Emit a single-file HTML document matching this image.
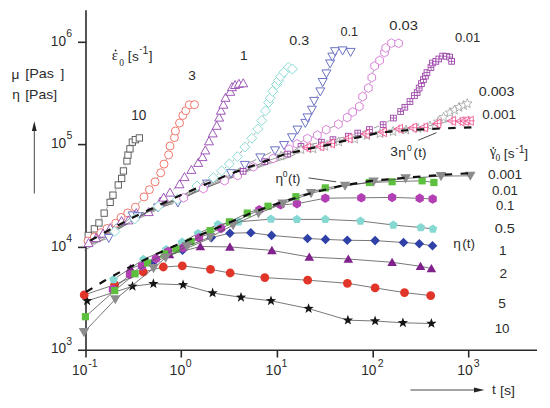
<!DOCTYPE html>
<html><head><meta charset="utf-8"><style>
html,body{margin:0;padding:0;background:#fff;}
body{width:550px;height:408px;overflow:hidden;}
svg{display:block;}
</style></head><body>
<svg width="550" height="408" viewBox="0 0 550 408">
<rect width="550" height="408" fill="#fff"/>
<line x1="86" y1="10.3" x2="86" y2="357.5" stroke="#2a2a2a" stroke-width="1.6"/>
<line x1="78" y1="350.3" x2="537" y2="350.3" stroke="#2a2a2a" stroke-width="1.6"/>
<line x1="78" y1="42.3" x2="86" y2="42.3" stroke="#2a2a2a" stroke-width="1.6"/>
<line x1="78" y1="144.6" x2="86" y2="144.6" stroke="#2a2a2a" stroke-width="1.6"/>
<line x1="78" y1="247.4" x2="86" y2="247.4" stroke="#2a2a2a" stroke-width="1.6"/>
<line x1="181.3" y1="350" x2="181.3" y2="357.5" stroke="#2a2a2a" stroke-width="1.6"/>
<line x1="277.4" y1="350" x2="277.4" y2="357.5" stroke="#2a2a2a" stroke-width="1.6"/>
<line x1="373.2" y1="350" x2="373.2" y2="357.5" stroke="#2a2a2a" stroke-width="1.6"/>
<line x1="468.7" y1="350" x2="468.7" y2="357.5" stroke="#2a2a2a" stroke-width="1.6"/>
<text transform="translate(50.85,45.70) scale(1.046,1.067)" font-size="13" font-family="Liberation Sans, sans-serif" fill="#2b2b2b">10</text>
<text transform="translate(66.20,37.38) scale(1.000,1.000)" font-size="10.5" font-family="Liberation Sans, sans-serif" fill="#2b2b2b">6</text>
<text transform="translate(50.95,148.20) scale(1.054,1.078)" font-size="13" font-family="Liberation Sans, sans-serif" fill="#2b2b2b">10</text>
<text transform="translate(66.40,139.15) scale(1.000,1.000)" font-size="10.5" font-family="Liberation Sans, sans-serif" fill="#2b2b2b">5</text>
<text transform="translate(50.95,250.70) scale(1.054,1.067)" font-size="13" font-family="Liberation Sans, sans-serif" fill="#2b2b2b">10</text>
<text transform="translate(66.17,242.23) scale(1.000,1.000)" font-size="10.5" font-family="Liberation Sans, sans-serif" fill="#2b2b2b">4</text>
<text transform="translate(50.95,353.40) scale(1.054,1.100)" font-size="13" font-family="Liberation Sans, sans-serif" fill="#2b2b2b">10</text>
<text transform="translate(66.25,344.73) scale(1.000,1.000)" font-size="10.5" font-family="Liberation Sans, sans-serif" fill="#2b2b2b">3</text>
<text transform="translate(72.05,375.10) scale(1.054,1.067)" font-size="13" font-family="Liberation Sans, sans-serif" fill="#2b2b2b">10</text>
<text transform="translate(88.35,366.90) scale(1.000,1.000)" font-size="10.5" font-family="Liberation Sans, sans-serif" fill="#2b2b2b">-</text>
<text transform="translate(91.85,367.08) scale(1.000,1.000)" font-size="10.5" font-family="Liberation Sans, sans-serif" fill="#2b2b2b">1</text>
<text transform="translate(169.62,375.10) scale(1.085,1.067)" font-size="13" font-family="Liberation Sans, sans-serif" fill="#2b2b2b">10</text>
<text transform="translate(185.70,367.07) scale(1.000,1.000)" font-size="10.5" font-family="Liberation Sans, sans-serif" fill="#2b2b2b">0</text>
<text transform="translate(265.62,375.10) scale(1.077,1.067)" font-size="13" font-family="Liberation Sans, sans-serif" fill="#2b2b2b">10</text>
<text transform="translate(281.50,366.77) scale(1.000,1.000)" font-size="10.5" font-family="Liberation Sans, sans-serif" fill="#2b2b2b">1</text>
<text transform="translate(361.25,375.10) scale(1.054,1.067)" font-size="13" font-family="Liberation Sans, sans-serif" fill="#2b2b2b">10</text>
<text transform="translate(377.73,367.08) scale(1.000,1.000)" font-size="10.5" font-family="Liberation Sans, sans-serif" fill="#2b2b2b">2</text>
<text transform="translate(457.22,375.10) scale(1.077,1.067)" font-size="13" font-family="Liberation Sans, sans-serif" fill="#2b2b2b">10</text>
<text transform="translate(473.75,366.93) scale(1.000,1.000)" font-size="10.5" font-family="Liberation Sans, sans-serif" fill="#2b2b2b">3</text>
<text transform="translate(492.07,394.47) scale(1.054,1.022)" font-size="13" font-family="Liberation Sans, sans-serif" fill="#2b2b2b">t</text>
<text transform="translate(500.01,394.90) scale(1.089,1.022)" font-size="13" font-family="Liberation Sans, sans-serif" fill="#2b2b2b">[s]</text>
<text transform="translate(11.40,78.97) scale(1.054,1.022)" font-size="13" font-family="Liberation Sans, sans-serif" fill="#2b2b2b">&#956;</text>
<text transform="translate(25.19,78.35) scale(1.110,1.022)" font-size="13" font-family="Liberation Sans, sans-serif" fill="#2b2b2b">[Pas</text>
<text transform="translate(60.50,78.35) scale(1.054,1.022)" font-size="13" font-family="Liberation Sans, sans-serif" fill="#2b2b2b">]</text>
<text transform="translate(12.13,98.87) scale(1.054,1.022)" font-size="13" font-family="Liberation Sans, sans-serif" fill="#2b2b2b">&#951;</text>
<text transform="translate(25.22,98.80) scale(1.077,1.022)" font-size="13" font-family="Liberation Sans, sans-serif" fill="#2b2b2b">[Pas]</text>
<text transform="translate(111.79,59.97) scale(1.054,1.022)" font-size="14" font-family="Liberation Serif, serif" fill="#2b2b2b">&#949;</text>
<text transform="translate(119.32,65.67) scale(1.000,1.000)" font-size="9.5" font-family="Liberation Serif, serif" fill="#2b2b2b">0</text>
<text transform="translate(127.63,60.10) scale(1.054,1.022)" font-size="13" font-family="Liberation Sans, sans-serif" fill="#2b2b2b">[</text>
<text transform="translate(132.02,60.68) scale(1.054,1.022)" font-size="13" font-family="Liberation Sans, sans-serif" fill="#2b2b2b">s</text>
<text transform="translate(139.25,51.58) scale(1.000,1.000)" font-size="9" font-family="Liberation Sans, sans-serif" fill="#2b2b2b">-</text>
<text transform="translate(142.55,54.42) scale(1.000,1.000)" font-size="10.5" font-family="Liberation Sans, sans-serif" fill="#2b2b2b">1</text>
<text transform="translate(148.85,60.10) scale(1.054,1.022)" font-size="13" font-family="Liberation Sans, sans-serif" fill="#2b2b2b">]</text>
<text transform="translate(131.15,119.70) scale(1.046,1.056)" font-size="13" font-family="Liberation Sans, sans-serif" fill="#2b2b2b">10</text>
<text transform="translate(188.28,79.60) scale(1.054,1.022)" font-size="13" font-family="Liberation Sans, sans-serif" fill="#2b2b2b">3</text>
<text transform="translate(240.05,60.20) scale(1.054,1.022)" font-size="13" font-family="Liberation Sans, sans-serif" fill="#2b2b2b">1</text>
<text transform="translate(289.25,44.50) scale(1.100,1.011)" font-size="13" font-family="Liberation Sans, sans-serif" fill="#2b2b2b">0.3</text>
<text transform="translate(340.41,35.71) scale(0.976,0.980)" font-size="13" font-family="Liberation Sans, sans-serif" fill="#2b2b2b">0.1</text>
<text transform="translate(389.33,30.01) scale(1.134,0.980)" font-size="13" font-family="Liberation Sans, sans-serif" fill="#2b2b2b">0.03</text>
<text transform="translate(455.00,42.40) scale(1.002,1.022)" font-size="13" font-family="Liberation Sans, sans-serif" fill="#2b2b2b">0.01</text>
<text transform="translate(478.75,96.20) scale(1.098,1.033)" font-size="13" font-family="Liberation Sans, sans-serif" fill="#2b2b2b">0.003</text>
<text transform="translate(482.18,119.40) scale(1.041,1.011)" font-size="13" font-family="Liberation Sans, sans-serif" fill="#2b2b2b">0.001</text>
<text transform="translate(390.28,156.45) scale(1.054,1.022)" font-size="13" font-family="Liberation Sans, sans-serif" fill="#2b2b2b">3</text>
<text transform="translate(398.23,156.92) scale(1.054,1.022)" font-size="13" font-family="Liberation Sans, sans-serif" fill="#2b2b2b">&#951;</text>
<text transform="translate(406.89,151.07) scale(0.820,0.860)" font-size="10.5" font-family="Liberation Sans, sans-serif" fill="#2b2b2b">0</text>
<text transform="translate(413.62,156.65) scale(1.042,1.022)" font-size="13" font-family="Liberation Sans, sans-serif" fill="#2b2b2b">(t)</text>
<text transform="translate(489.72,156.44) scale(1.054,1.022)" font-size="14" font-family="Liberation Serif, serif" fill="#2b2b2b">&#947;</text>
<text transform="translate(495.48,160.88) scale(1.000,1.000)" font-size="9.5" font-family="Liberation Serif, serif" fill="#2b2b2b">0</text>
<text transform="translate(503.73,158.10) scale(1.054,1.022)" font-size="13" font-family="Liberation Sans, sans-serif" fill="#2b2b2b">[</text>
<text transform="translate(507.77,158.28) scale(1.054,1.022)" font-size="13" font-family="Liberation Sans, sans-serif" fill="#2b2b2b">s</text>
<text transform="translate(515.55,151.12) scale(1.000,1.000)" font-size="9" font-family="Liberation Sans, sans-serif" fill="#2b2b2b">-</text>
<text transform="translate(518.85,152.57) scale(1.000,1.000)" font-size="10.5" font-family="Liberation Sans, sans-serif" fill="#2b2b2b">1</text>
<text transform="translate(524.30,158.10) scale(1.054,1.022)" font-size="13" font-family="Liberation Sans, sans-serif" fill="#2b2b2b">]</text>
<text transform="translate(488.07,179.41) scale(1.051,0.980)" font-size="13" font-family="Liberation Sans, sans-serif" fill="#2b2b2b">0.001</text>
<text transform="translate(492.09,195.10) scale(1.023,1.022)" font-size="13" font-family="Liberation Sans, sans-serif" fill="#2b2b2b">0.01</text>
<text transform="translate(496.10,210.40) scale(1.006,1.022)" font-size="13" font-family="Liberation Sans, sans-serif" fill="#2b2b2b">0.1</text>
<text transform="translate(494.64,233.40) scale(1.118,1.022)" font-size="13" font-family="Liberation Sans, sans-serif" fill="#2b2b2b">0.5</text>
<text transform="translate(499.00,255.00) scale(1.054,1.022)" font-size="13" font-family="Liberation Sans, sans-serif" fill="#2b2b2b">1</text>
<text transform="translate(499.53,278.20) scale(1.054,1.022)" font-size="13" font-family="Liberation Sans, sans-serif" fill="#2b2b2b">2</text>
<text transform="translate(498.33,308.45) scale(1.054,1.022)" font-size="13" font-family="Liberation Sans, sans-serif" fill="#2b2b2b">5</text>
<text transform="translate(494.67,333.00) scale(1.031,1.011)" font-size="13" font-family="Liberation Sans, sans-serif" fill="#2b2b2b">10</text>
<text transform="translate(275.43,183.37) scale(1.054,1.022)" font-size="13" font-family="Liberation Sans, sans-serif" fill="#2b2b2b">&#951;</text>
<text transform="translate(282.69,177.17) scale(0.820,0.860)" font-size="10.5" font-family="Liberation Sans, sans-serif" fill="#2b2b2b">0</text>
<text transform="translate(288.05,182.95) scale(1.005,1.022)" font-size="13" font-family="Liberation Sans, sans-serif" fill="#2b2b2b">(t)</text>
<text transform="translate(453.28,247.62) scale(1.054,1.022)" font-size="13" font-family="Liberation Sans, sans-serif" fill="#2b2b2b">&#951;</text>
<text transform="translate(462.32,247.50) scale(1.042,1.022)" font-size="13" font-family="Liberation Sans, sans-serif" fill="#2b2b2b">(t)</text>
<line x1="410.5" y1="390" x2="476" y2="390" stroke="#333" stroke-width="0.9"/>
<polygon points="484.3,390 474,387.6 474,392.4" fill="#222"/>
<line x1="34.3" y1="130" x2="34.3" y2="193.5" stroke="#333" stroke-width="0.9"/>
<polygon points="34.3,121.3 31.9,131 36.7,131" fill="#222"/>
<circle cx="115.6" cy="50.5" r="0.9" fill="#2b2b2b"/>
<circle cx="493.4" cy="147.8" r="0.9" fill="#2b2b2b"/>
<line x1="418.2" y1="140.3" x2="436.4" y2="132.7" stroke="#333" stroke-width="0.9"/>
<line x1="308.5" y1="177.9" x2="336.2" y2="181.8" stroke="#333" stroke-width="0.9"/>
<polyline points="84.5,250.5 114.9,231.5" fill="none" stroke="#555" stroke-width="0.6" />
<polyline points="86.0,246.0 97.0,242.0 108.8,238.0" fill="none" stroke="#555" stroke-width="0.6" />
<polyline points="88.0,243.9 110.0,231.5 130.0,221.0 150.0,211.4 170.0,202.0 183.6,197.8" fill="none" stroke="#555" stroke-width="0.6" />
<polyline points="86.0,244.2 110.0,230.7 130.0,220.2 150.0,210.6 170.0,201.2 190.0,192.2 210.0,183.6 230.0,175.2 243.2,171.3" fill="none" stroke="#555" stroke-width="0.6" />
<polyline points="86.0,245.6 110.0,232.1 130.0,221.6 150.0,212.0 170.0,202.6 190.0,193.6 210.0,185.0 230.0,176.6 250.0,169.3 270.0,162.1 281.0,156.0" fill="none" stroke="#555" stroke-width="0.6" />
<polyline points="86.0,246.8 110.0,233.3 130.0,222.8 150.0,213.2 170.0,203.8 190.0,194.8 210.0,186.2 230.0,177.8 250.0,170.5 270.0,163.3 290.0,156.9 306.8,147.6" fill="none" stroke="#555" stroke-width="0.6" />
<path d="M101.1,218.9L102.0,217.2M106.4,209.2L108.0,206.3M115.1,191.1L116.2,189.1M125.0,166.5L125.4,165.4" fill="none" stroke="#555" stroke-width="0.6"/>
<rect x="85.1" y="232.3" width="6.3" height="6.3" fill="#fff" stroke="#5a5a5a" stroke-width="0.95"/>
<rect x="91.2" y="225.7" width="6.3" height="6.3" fill="#fff" stroke="#5a5a5a" stroke-width="0.95"/>
<rect x="95.8" y="219.8" width="6.3" height="6.3" fill="#fff" stroke="#5a5a5a" stroke-width="0.95"/>
<rect x="101.0" y="210.0" width="6.3" height="6.3" fill="#fff" stroke="#5a5a5a" stroke-width="0.95"/>
<rect x="107.0" y="199.2" width="6.3" height="6.3" fill="#fff" stroke="#5a5a5a" stroke-width="0.95"/>
<rect x="109.8" y="192.0" width="6.3" height="6.3" fill="#fff" stroke="#5a5a5a" stroke-width="0.95"/>
<rect x="115.1" y="181.8" width="6.3" height="6.3" fill="#fff" stroke="#5a5a5a" stroke-width="0.95"/>
<rect x="118.5" y="175.3" width="6.3" height="6.3" fill="#fff" stroke="#5a5a5a" stroke-width="0.95"/>
<rect x="120.3" y="167.8" width="6.3" height="6.3" fill="#fff" stroke="#5a5a5a" stroke-width="0.95"/>
<rect x="123.8" y="157.8" width="6.3" height="6.3" fill="#fff" stroke="#5a5a5a" stroke-width="0.95"/>
<rect x="124.8" y="151.9" width="6.3" height="6.3" fill="#fff" stroke="#5a5a5a" stroke-width="0.95"/>
<rect x="126.8" y="145.7" width="6.3" height="6.3" fill="#fff" stroke="#5a5a5a" stroke-width="0.95"/>
<rect x="129.2" y="139.0" width="6.3" height="6.3" fill="#fff" stroke="#5a5a5a" stroke-width="0.95"/>
<rect x="132.2" y="136.5" width="6.3" height="6.3" fill="#fff" stroke="#5a5a5a" stroke-width="0.95"/>
<rect x="136.2" y="134.8" width="6.3" height="6.3" fill="#fff" stroke="#5a5a5a" stroke-width="0.95"/>
<path d="M110.9,226.1L111.8,225.6M138.3,203.7L141.1,200.4M157.5,177.9L158.2,176.7M166.1,160.0L166.5,159.0" fill="none" stroke="#555" stroke-width="0.6"/>
<circle cx="88.0" cy="241.0" r="4.0" fill="#fff" stroke="#ee6a5e" stroke-width="0.9"/>
<circle cx="94.3" cy="237.0" r="4.0" fill="#fff" stroke="#ee6a5e" stroke-width="0.9"/>
<circle cx="100.9" cy="232.7" r="4.0" fill="#fff" stroke="#ee6a5e" stroke-width="0.9"/>
<circle cx="107.0" cy="228.5" r="4.0" fill="#fff" stroke="#ee6a5e" stroke-width="0.9"/>
<circle cx="115.7" cy="223.2" r="4.0" fill="#fff" stroke="#ee6a5e" stroke-width="0.9"/>
<circle cx="121.0" cy="217.4" r="4.0" fill="#fff" stroke="#ee6a5e" stroke-width="0.9"/>
<circle cx="127.7" cy="212.9" r="4.0" fill="#fff" stroke="#ee6a5e" stroke-width="0.9"/>
<circle cx="135.4" cy="207.2" r="4.0" fill="#fff" stroke="#ee6a5e" stroke-width="0.9"/>
<circle cx="144.0" cy="196.9" r="4.0" fill="#fff" stroke="#ee6a5e" stroke-width="0.9"/>
<circle cx="149.4" cy="189.7" r="4.0" fill="#fff" stroke="#ee6a5e" stroke-width="0.9"/>
<circle cx="155.0" cy="181.8" r="4.0" fill="#fff" stroke="#ee6a5e" stroke-width="0.9"/>
<circle cx="160.7" cy="172.8" r="4.0" fill="#fff" stroke="#ee6a5e" stroke-width="0.9"/>
<circle cx="164.0" cy="164.1" r="4.0" fill="#fff" stroke="#ee6a5e" stroke-width="0.9"/>
<circle cx="168.6" cy="154.9" r="4.0" fill="#fff" stroke="#ee6a5e" stroke-width="0.9"/>
<circle cx="170.0" cy="146.0" r="4.0" fill="#fff" stroke="#ee6a5e" stroke-width="0.9"/>
<circle cx="174.4" cy="137.6" r="4.0" fill="#fff" stroke="#ee6a5e" stroke-width="0.9"/>
<circle cx="175.4" cy="131.0" r="4.0" fill="#fff" stroke="#ee6a5e" stroke-width="0.9"/>
<circle cx="179.5" cy="123.0" r="4.0" fill="#fff" stroke="#ee6a5e" stroke-width="0.9"/>
<circle cx="182.8" cy="115.5" r="4.0" fill="#fff" stroke="#ee6a5e" stroke-width="0.9"/>
<circle cx="185.8" cy="110.7" r="4.0" fill="#fff" stroke="#ee6a5e" stroke-width="0.9"/>
<circle cx="189.3" cy="104.8" r="4.0" fill="#fff" stroke="#ee6a5e" stroke-width="0.9"/>
<circle cx="194.5" cy="104.7" r="4.0" fill="#fff" stroke="#ee6a5e" stroke-width="0.9"/>
<path d="M114.2,225.6L117.6,223.4M131.7,217.2L132.9,216.1M140.9,212.6L144.1,212.4M152.1,208.9L156.9,204.6M173.5,189.5L176.0,187.2M187.7,173.7L188.2,173.1M194.6,166.5L195.0,166.1M207.0,146.0L207.3,145.5" fill="none" stroke="#555" stroke-width="0.6"/>
<polygon points="88.50,238.60 93.00,246.60 84.00,246.60" fill="#fff" stroke="#9446b0" stroke-width="0.9" stroke-linejoin="miter"/>
<polygon points="96.00,233.60 100.50,241.60 91.50,241.60" fill="#fff" stroke="#9446b0" stroke-width="0.9" stroke-linejoin="miter"/>
<polygon points="103.00,229.10 107.50,237.10 98.50,237.10" fill="#fff" stroke="#9446b0" stroke-width="0.9" stroke-linejoin="miter"/>
<polygon points="110.30,223.60 114.80,231.60 105.80,231.60" fill="#fff" stroke="#9446b0" stroke-width="0.9" stroke-linejoin="miter"/>
<polygon points="121.50,216.60 126.00,224.60 117.00,224.60" fill="#fff" stroke="#9446b0" stroke-width="0.9" stroke-linejoin="miter"/>
<polygon points="128.30,215.90 132.80,223.90 123.80,223.90" fill="#fff" stroke="#9446b0" stroke-width="0.9" stroke-linejoin="miter"/>
<polygon points="136.30,208.60 140.80,216.60 131.80,216.60" fill="#fff" stroke="#9446b0" stroke-width="0.9" stroke-linejoin="miter"/>
<polygon points="148.70,207.60 153.20,215.60 144.20,215.60" fill="#fff" stroke="#9446b0" stroke-width="0.9" stroke-linejoin="miter"/>
<polygon points="160.30,197.10 164.80,205.10 155.80,205.10" fill="#fff" stroke="#9446b0" stroke-width="0.9" stroke-linejoin="miter"/>
<polygon points="163.70,193.10 168.20,201.10 159.20,201.10" fill="#fff" stroke="#9446b0" stroke-width="0.9" stroke-linejoin="miter"/>
<polygon points="170.00,188.10 174.50,196.10 165.50,196.10" fill="#fff" stroke="#9446b0" stroke-width="0.9" stroke-linejoin="miter"/>
<polygon points="179.50,179.80 184.00,187.80 175.00,187.80" fill="#fff" stroke="#9446b0" stroke-width="0.9" stroke-linejoin="miter"/>
<polygon points="184.50,172.60 189.00,180.60 180.00,180.60" fill="#fff" stroke="#9446b0" stroke-width="0.9" stroke-linejoin="miter"/>
<polygon points="191.40,165.40 195.90,173.40 186.90,173.40" fill="#fff" stroke="#9446b0" stroke-width="0.9" stroke-linejoin="miter"/>
<polygon points="198.20,158.40 202.70,166.40 193.70,166.40" fill="#fff" stroke="#9446b0" stroke-width="0.9" stroke-linejoin="miter"/>
<polygon points="202.50,152.60 207.00,160.60 198.00,160.60" fill="#fff" stroke="#9446b0" stroke-width="0.9" stroke-linejoin="miter"/>
<polygon points="205.30,145.90 209.80,153.90 200.80,153.90" fill="#fff" stroke="#9446b0" stroke-width="0.9" stroke-linejoin="miter"/>
<polygon points="209.00,136.80 213.50,144.80 204.50,144.80" fill="#fff" stroke="#9446b0" stroke-width="0.9" stroke-linejoin="miter"/>
<polygon points="212.70,128.90 217.20,136.90 208.20,136.90" fill="#fff" stroke="#9446b0" stroke-width="0.9" stroke-linejoin="miter"/>
<polygon points="216.70,121.30 221.20,129.30 212.20,129.30" fill="#fff" stroke="#9446b0" stroke-width="0.9" stroke-linejoin="miter"/>
<polygon points="219.20,113.10 223.70,121.10 214.70,121.10" fill="#fff" stroke="#9446b0" stroke-width="0.9" stroke-linejoin="miter"/>
<polygon points="220.90,106.20 225.40,114.20 216.40,114.20" fill="#fff" stroke="#9446b0" stroke-width="0.9" stroke-linejoin="miter"/>
<polygon points="223.40,100.20 227.90,108.20 218.90,108.20" fill="#fff" stroke="#9446b0" stroke-width="0.9" stroke-linejoin="miter"/>
<polygon points="225.50,93.30 230.00,101.30 221.00,101.30" fill="#fff" stroke="#9446b0" stroke-width="0.9" stroke-linejoin="miter"/>
<polygon points="230.30,87.30 234.80,95.30 225.80,95.30" fill="#fff" stroke="#9446b0" stroke-width="0.9" stroke-linejoin="miter"/>
<polygon points="232.00,82.70 236.50,90.70 227.50,90.70" fill="#fff" stroke="#9446b0" stroke-width="0.9" stroke-linejoin="miter"/>
<polygon points="235.10,80.50 239.60,88.50 230.60,88.50" fill="#fff" stroke="#9446b0" stroke-width="0.9" stroke-linejoin="miter"/>
<polygon points="238.90,79.30 243.40,87.30 234.40,87.30" fill="#fff" stroke="#9446b0" stroke-width="0.9" stroke-linejoin="miter"/>
<polygon points="243.20,78.80 247.70,86.80 238.70,86.80" fill="#fff" stroke="#9446b0" stroke-width="0.9" stroke-linejoin="miter"/>
<path d="M112.1,234.8L129.3,218.7M141.9,214.6L153.8,209.3M162.5,206.4L173.4,203.7M181.8,200.1L203.1,186.2M211.2,181.9L226.8,175.1M234.9,170.9L240.9,167.4M248.9,163.0L256.2,159.5M264.4,155.5L270.9,152.4M279.0,148.1L280.0,147.5M287.3,142.0L288.7,140.6M301.0,126.7L301.8,126.0M316.6,97.1L317.8,95.4M321.4,87.0L321.6,86.6M328.0,69.2L328.5,67.8" fill="none" stroke="#555" stroke-width="0.6"/>
<polygon points="104.30,234.40 113.30,234.40 108.80,242.40" fill="#fff" stroke="#5a62bc" stroke-width="0.9" stroke-linejoin="miter"/>
<polygon points="128.10,211.90 137.10,211.90 132.60,219.90" fill="#fff" stroke="#5a62bc" stroke-width="0.9" stroke-linejoin="miter"/>
<polygon points="133.20,212.80 142.20,212.80 137.70,220.80" fill="#fff" stroke="#5a62bc" stroke-width="0.9" stroke-linejoin="miter"/>
<polygon points="153.50,203.90 162.50,203.90 158.00,211.90" fill="#fff" stroke="#5a62bc" stroke-width="0.9" stroke-linejoin="miter"/>
<polygon points="173.40,199.00 182.40,199.00 177.90,207.00" fill="#fff" stroke="#5a62bc" stroke-width="0.9" stroke-linejoin="miter"/>
<polygon points="202.50,180.10 211.50,180.10 207.00,188.10" fill="#fff" stroke="#5a62bc" stroke-width="0.9" stroke-linejoin="miter"/>
<polygon points="226.50,169.70 235.50,169.70 231.00,177.70" fill="#fff" stroke="#5a62bc" stroke-width="0.9" stroke-linejoin="miter"/>
<polygon points="240.30,161.40 249.30,161.40 244.80,169.40" fill="#fff" stroke="#5a62bc" stroke-width="0.9" stroke-linejoin="miter"/>
<polygon points="255.80,153.90 264.80,153.90 260.30,161.90" fill="#fff" stroke="#5a62bc" stroke-width="0.9" stroke-linejoin="miter"/>
<polygon points="270.50,146.80 279.50,146.80 275.00,154.80" fill="#fff" stroke="#5a62bc" stroke-width="0.9" stroke-linejoin="miter"/>
<polygon points="279.50,141.60 288.50,141.60 284.00,149.60" fill="#fff" stroke="#5a62bc" stroke-width="0.9" stroke-linejoin="miter"/>
<polygon points="287.50,133.80 296.50,133.80 292.00,141.80" fill="#fff" stroke="#5a62bc" stroke-width="0.9" stroke-linejoin="miter"/>
<polygon points="293.00,126.10 302.00,126.10 297.50,134.10" fill="#fff" stroke="#5a62bc" stroke-width="0.9" stroke-linejoin="miter"/>
<polygon points="300.80,119.40 309.80,119.40 305.30,127.40" fill="#fff" stroke="#5a62bc" stroke-width="0.9" stroke-linejoin="miter"/>
<polygon points="303.00,113.90 312.00,113.90 307.50,121.90" fill="#fff" stroke="#5a62bc" stroke-width="0.9" stroke-linejoin="miter"/>
<polygon points="307.40,106.20 316.40,106.20 311.90,114.20" fill="#fff" stroke="#5a62bc" stroke-width="0.9" stroke-linejoin="miter"/>
<polygon points="309.60,97.40 318.60,97.40 314.10,105.40" fill="#fff" stroke="#5a62bc" stroke-width="0.9" stroke-linejoin="miter"/>
<polygon points="315.80,87.90 324.80,87.90 320.30,95.90" fill="#fff" stroke="#5a62bc" stroke-width="0.9" stroke-linejoin="miter"/>
<polygon points="318.20,78.50 327.20,78.50 322.70,86.50" fill="#fff" stroke="#5a62bc" stroke-width="0.9" stroke-linejoin="miter"/>
<polygon points="321.90,69.90 330.90,69.90 326.40,77.90" fill="#fff" stroke="#5a62bc" stroke-width="0.9" stroke-linejoin="miter"/>
<polygon points="325.60,59.90 334.60,59.90 330.10,67.90" fill="#fff" stroke="#5a62bc" stroke-width="0.9" stroke-linejoin="miter"/>
<polygon points="327.80,53.10 336.80,53.10 332.30,61.10" fill="#fff" stroke="#5a62bc" stroke-width="0.9" stroke-linejoin="miter"/>
<polygon points="330.50,47.70 339.50,47.70 335.00,55.70" fill="#fff" stroke="#5a62bc" stroke-width="0.9" stroke-linejoin="miter"/>
<polygon points="338.10,46.90 347.10,46.90 342.60,54.90" fill="#fff" stroke="#5a62bc" stroke-width="0.9" stroke-linejoin="miter"/>
<polygon points="346.10,48.40 355.10,48.40 350.60,56.40" fill="#fff" stroke="#5a62bc" stroke-width="0.9" stroke-linejoin="miter"/>
<path d="M118.8,229.0L130.8,221.5M138.8,216.8L154.0,208.7M162.4,204.9L173.1,200.9M181.2,196.7L193.2,188.6M201.1,183.9L209.2,179.8M216.9,174.8L218.0,173.8M225.0,167.8L226.0,167.0M232.8,160.8L234.0,159.8M240.2,153.1L242.1,150.6M247.8,143.4L248.9,141.9M254.3,134.4L255.3,132.9M263.5,116.2L263.8,115.2" fill="none" stroke="#555" stroke-width="0.6"/>
<polygon points="114.90,226.50 119.90,231.50 114.90,236.50 109.90,231.50" fill="#fff" stroke="#7fd6cf" stroke-width="0.9" stroke-linejoin="miter"/>
<polygon points="134.70,214.00 139.70,219.00 134.70,224.00 129.70,219.00" fill="#fff" stroke="#7fd6cf" stroke-width="0.9" stroke-linejoin="miter"/>
<polygon points="158.10,201.50 163.10,206.50 158.10,211.50 153.10,206.50" fill="#fff" stroke="#7fd6cf" stroke-width="0.9" stroke-linejoin="miter"/>
<polygon points="177.40,194.30 182.40,199.30 177.40,204.30 172.40,199.30" fill="#fff" stroke="#7fd6cf" stroke-width="0.9" stroke-linejoin="miter"/>
<polygon points="197.00,181.00 202.00,186.00 197.00,191.00 192.00,186.00" fill="#fff" stroke="#7fd6cf" stroke-width="0.9" stroke-linejoin="miter"/>
<polygon points="213.30,172.70 218.30,177.70 213.30,182.70 208.30,177.70" fill="#fff" stroke="#7fd6cf" stroke-width="0.9" stroke-linejoin="miter"/>
<polygon points="221.60,165.90 226.60,170.90 221.60,175.90 216.60,170.90" fill="#fff" stroke="#7fd6cf" stroke-width="0.9" stroke-linejoin="miter"/>
<polygon points="229.40,158.90 234.40,163.90 229.40,168.90 224.40,163.90" fill="#fff" stroke="#7fd6cf" stroke-width="0.9" stroke-linejoin="miter"/>
<polygon points="237.40,151.70 242.40,156.70 237.40,161.70 232.40,156.70" fill="#fff" stroke="#7fd6cf" stroke-width="0.9" stroke-linejoin="miter"/>
<polygon points="244.90,142.00 249.90,147.00 244.90,152.00 239.90,147.00" fill="#fff" stroke="#7fd6cf" stroke-width="0.9" stroke-linejoin="miter"/>
<polygon points="251.80,133.30 256.80,138.30 251.80,143.30 246.80,138.30" fill="#fff" stroke="#7fd6cf" stroke-width="0.9" stroke-linejoin="miter"/>
<polygon points="257.80,124.00 262.80,129.00 257.80,134.00 252.80,129.00" fill="#fff" stroke="#7fd6cf" stroke-width="0.9" stroke-linejoin="miter"/>
<polygon points="261.80,115.50 266.80,120.50 261.80,125.50 256.80,120.50" fill="#fff" stroke="#7fd6cf" stroke-width="0.9" stroke-linejoin="miter"/>
<polygon points="265.50,105.90 270.50,110.90 265.50,115.90 260.50,110.90" fill="#fff" stroke="#7fd6cf" stroke-width="0.9" stroke-linejoin="miter"/>
<polygon points="268.50,97.50 273.50,102.50 268.50,107.50 263.50,102.50" fill="#fff" stroke="#7fd6cf" stroke-width="0.9" stroke-linejoin="miter"/>
<polygon points="270.20,93.10 275.20,98.10 270.20,103.10 265.20,98.10" fill="#fff" stroke="#7fd6cf" stroke-width="0.9" stroke-linejoin="miter"/>
<polygon points="272.70,86.30 277.70,91.30 272.70,96.30 267.70,91.30" fill="#fff" stroke="#7fd6cf" stroke-width="0.9" stroke-linejoin="miter"/>
<polygon points="276.50,79.40 281.50,84.40 276.50,89.40 271.50,84.40" fill="#fff" stroke="#7fd6cf" stroke-width="0.9" stroke-linejoin="miter"/>
<polygon points="278.50,75.50 283.50,80.50 278.50,85.50 273.50,80.50" fill="#fff" stroke="#7fd6cf" stroke-width="0.9" stroke-linejoin="miter"/>
<polygon points="280.60,71.60 285.60,76.60 280.60,81.60 275.60,76.60" fill="#fff" stroke="#7fd6cf" stroke-width="0.9" stroke-linejoin="miter"/>
<polygon points="283.90,67.30 288.90,72.30 283.90,77.30 278.90,72.30" fill="#fff" stroke="#7fd6cf" stroke-width="0.9" stroke-linejoin="miter"/>
<polygon points="288.40,62.20 293.40,67.20 288.40,72.20 283.40,67.20" fill="#fff" stroke="#7fd6cf" stroke-width="0.9" stroke-linejoin="miter"/>
<polygon points="292.40,64.10 297.40,69.10 292.40,74.10 287.40,69.10" fill="#fff" stroke="#7fd6cf" stroke-width="0.9" stroke-linejoin="miter"/>
<path d="M187.8,195.9L199.2,190.5M207.7,187.0L220.3,182.3M228.9,179.0L233.4,177.2M241.7,173.3L249.4,169.0M257.6,165.0L268.9,160.3M277.1,156.2L285.0,151.5M301.1,141.9L303.4,140.7M311.9,137.1L313.0,136.7M321.3,132.8L322.3,132.1M330.4,127.8L334.2,126.1M342.1,121.4L343.5,120.3M360.8,102.1L361.1,101.0M365.2,92.8L365.8,91.8M369.8,83.6L370.4,81.9M372.9,73.0L373.6,70.5" fill="none" stroke="#555" stroke-width="0.6"/>
<polygon points="183.60,202.20 179.79,200.00 179.79,195.60 183.60,193.40 187.41,195.60 187.41,200.00" fill="#fff" stroke="#d475d4" stroke-width="0.9" stroke-linejoin="miter"/>
<polygon points="203.40,193.00 199.59,190.80 199.59,186.40 203.40,184.20 207.21,186.40 207.21,190.80" fill="#fff" stroke="#d475d4" stroke-width="0.9" stroke-linejoin="miter"/>
<polygon points="224.60,185.10 220.79,182.90 220.79,178.50 224.60,176.30 228.41,178.50 228.41,182.90" fill="#fff" stroke="#d475d4" stroke-width="0.9" stroke-linejoin="miter"/>
<polygon points="237.70,179.90 233.89,177.70 233.89,173.30 237.70,171.10 241.51,173.30 241.51,177.70" fill="#fff" stroke="#d475d4" stroke-width="0.9" stroke-linejoin="miter"/>
<polygon points="253.40,171.20 249.59,169.00 249.59,164.60 253.40,162.40 257.21,164.60 257.21,169.00" fill="#fff" stroke="#d475d4" stroke-width="0.9" stroke-linejoin="miter"/>
<polygon points="273.10,162.90 269.29,160.70 269.29,156.30 273.10,154.10 276.91,156.30 276.91,160.70" fill="#fff" stroke="#d475d4" stroke-width="0.9" stroke-linejoin="miter"/>
<polygon points="289.00,153.60 285.19,151.40 285.19,147.00 289.00,144.80 292.81,147.00 292.81,151.40" fill="#fff" stroke="#d475d4" stroke-width="0.9" stroke-linejoin="miter"/>
<polygon points="297.00,148.40 293.19,146.20 293.19,141.80 297.00,139.60 300.81,141.80 300.81,146.20" fill="#fff" stroke="#d475d4" stroke-width="0.9" stroke-linejoin="miter"/>
<polygon points="307.50,143.00 303.69,140.80 303.69,136.40 307.50,134.20 311.31,136.40 311.31,140.80" fill="#fff" stroke="#d475d4" stroke-width="0.9" stroke-linejoin="miter"/>
<polygon points="317.40,139.60 313.59,137.40 313.59,133.00 317.40,130.80 321.21,133.00 321.21,137.40" fill="#fff" stroke="#d475d4" stroke-width="0.9" stroke-linejoin="miter"/>
<polygon points="326.20,134.10 322.39,131.90 322.39,127.50 326.20,125.30 330.01,127.50 330.01,131.90" fill="#fff" stroke="#d475d4" stroke-width="0.9" stroke-linejoin="miter"/>
<polygon points="338.40,128.60 334.59,126.40 334.59,122.00 338.40,119.80 342.21,122.00 342.21,126.40" fill="#fff" stroke="#d475d4" stroke-width="0.9" stroke-linejoin="miter"/>
<polygon points="347.20,121.90 343.39,119.70 343.39,115.30 347.20,113.10 351.01,115.30 351.01,119.70" fill="#fff" stroke="#d475d4" stroke-width="0.9" stroke-linejoin="miter"/>
<polygon points="352.70,116.40 348.89,114.20 348.89,109.80 352.70,107.60 356.51,109.80 356.51,114.20" fill="#fff" stroke="#d475d4" stroke-width="0.9" stroke-linejoin="miter"/>
<polygon points="359.30,110.90 355.49,108.70 355.49,104.30 359.30,102.10 363.11,104.30 363.11,108.70" fill="#fff" stroke="#d475d4" stroke-width="0.9" stroke-linejoin="miter"/>
<polygon points="362.60,101.00 358.79,98.80 358.79,94.40 362.60,92.20 366.41,94.40 366.41,98.80" fill="#fff" stroke="#d475d4" stroke-width="0.9" stroke-linejoin="miter"/>
<polygon points="368.40,92.40 364.59,90.20 364.59,85.80 368.40,83.60 372.21,85.80 372.21,90.20" fill="#fff" stroke="#d475d4" stroke-width="0.9" stroke-linejoin="miter"/>
<polygon points="371.80,81.90 367.99,79.70 367.99,75.30 371.80,73.10 375.61,75.30 375.61,79.70" fill="#fff" stroke="#d475d4" stroke-width="0.9" stroke-linejoin="miter"/>
<polygon points="374.70,70.40 370.89,68.20 370.89,63.80 374.70,61.60 378.51,63.80 378.51,68.20" fill="#fff" stroke="#d475d4" stroke-width="0.9" stroke-linejoin="miter"/>
<polygon points="379.60,64.90 375.79,62.70 375.79,58.30 379.60,56.10 383.41,58.30 383.41,62.70" fill="#fff" stroke="#d475d4" stroke-width="0.9" stroke-linejoin="miter"/>
<polygon points="384.50,56.90 380.69,54.70 380.69,50.30 384.50,48.10 388.31,50.30 388.31,54.70" fill="#fff" stroke="#d475d4" stroke-width="0.9" stroke-linejoin="miter"/>
<polygon points="385.70,52.30 381.89,50.10 381.89,45.70 385.70,43.50 389.51,45.70 389.51,50.10" fill="#fff" stroke="#d475d4" stroke-width="0.9" stroke-linejoin="miter"/>
<polygon points="391.50,47.50 387.69,45.30 387.69,40.90 391.50,38.70 395.31,40.90 395.31,45.30" fill="#fff" stroke="#d475d4" stroke-width="0.9" stroke-linejoin="miter"/>
<polygon points="398.60,47.70 394.79,45.50 394.79,41.10 398.60,38.90 402.41,41.10 402.41,45.50" fill="#fff" stroke="#d475d4" stroke-width="0.9" stroke-linejoin="miter"/>
<path d="M247.4,169.4L260.6,163.6M269.2,160.3L283.3,155.5M291.7,151.8L297.0,148.7M305.5,145.5L317.0,143.1M326.0,141.2L328.5,140.7M337.5,138.7L343.8,137.2M352.7,134.8L353.4,134.5M362.2,131.7L365.1,130.9M373.8,128.0L378.9,126.1M387.1,122.1L389.6,120.5" fill="none" stroke="#555" stroke-width="0.6"/>
<rect x="240.3" y="168.5" width="5.7" height="5.7" fill="#fff" stroke="#9c44a8" stroke-width="0.9"/><path d="M240.3,171.3H246.0M243.2,168.5V174.2" stroke="#9c44a8" stroke-width="0.8"/>
<rect x="261.9" y="158.8" width="5.7" height="5.7" fill="#fff" stroke="#9c44a8" stroke-width="0.9"/><path d="M261.9,161.7H267.7M264.8,158.8V164.5" stroke="#9c44a8" stroke-width="0.8"/>
<rect x="284.8" y="151.2" width="5.7" height="5.7" fill="#fff" stroke="#9c44a8" stroke-width="0.9"/><path d="M284.8,154.1H290.6M287.7,151.2V156.9" stroke="#9c44a8" stroke-width="0.8"/>
<rect x="298.1" y="143.6" width="5.7" height="5.7" fill="#fff" stroke="#9c44a8" stroke-width="0.9"/><path d="M298.1,146.4H303.9M301.0,143.6V149.2" stroke="#9c44a8" stroke-width="0.8"/>
<rect x="318.6" y="139.3" width="5.7" height="5.7" fill="#fff" stroke="#9c44a8" stroke-width="0.9"/><path d="M318.6,142.2H324.4M321.5,139.3V145.0" stroke="#9c44a8" stroke-width="0.8"/>
<rect x="330.1" y="136.8" width="5.7" height="5.7" fill="#fff" stroke="#9c44a8" stroke-width="0.9"/><path d="M330.1,139.7H335.9M333.0,136.8V142.5" stroke="#9c44a8" stroke-width="0.8"/>
<rect x="345.4" y="133.3" width="5.7" height="5.7" fill="#fff" stroke="#9c44a8" stroke-width="0.9"/><path d="M345.4,136.2H351.2M348.3,133.3V139.0" stroke="#9c44a8" stroke-width="0.8"/>
<rect x="354.9" y="130.2" width="5.7" height="5.7" fill="#fff" stroke="#9c44a8" stroke-width="0.9"/><path d="M354.9,133.1H360.7M357.8,130.2V135.9" stroke="#9c44a8" stroke-width="0.8"/>
<rect x="366.6" y="126.7" width="5.7" height="5.7" fill="#fff" stroke="#9c44a8" stroke-width="0.9"/><path d="M366.6,129.5H372.4M369.5,126.7V132.3" stroke="#9c44a8" stroke-width="0.8"/>
<rect x="380.3" y="121.8" width="5.7" height="5.7" fill="#fff" stroke="#9c44a8" stroke-width="0.9"/><path d="M380.3,124.6H386.1M383.2,121.8V127.4" stroke="#9c44a8" stroke-width="0.8"/>
<rect x="390.6" y="115.2" width="5.7" height="5.7" fill="#fff" stroke="#9c44a8" stroke-width="0.9"/><path d="M390.6,118.0H396.4M393.5,115.2V120.8" stroke="#9c44a8" stroke-width="0.8"/>
<rect x="397.8" y="108.7" width="5.7" height="5.7" fill="#fff" stroke="#9c44a8" stroke-width="0.9"/><path d="M397.8,111.5H403.5M400.6,108.7V114.3" stroke="#9c44a8" stroke-width="0.8"/>
<rect x="402.0" y="104.4" width="5.7" height="5.7" fill="#fff" stroke="#9c44a8" stroke-width="0.9"/><path d="M402.0,107.2H407.8M404.9,104.4V110.0" stroke="#9c44a8" stroke-width="0.8"/>
<rect x="407.1" y="98.7" width="5.7" height="5.7" fill="#fff" stroke="#9c44a8" stroke-width="0.9"/><path d="M407.1,101.5H412.9M410.0,98.7V104.3" stroke="#9c44a8" stroke-width="0.8"/>
<rect x="411.6" y="92.7" width="5.7" height="5.7" fill="#fff" stroke="#9c44a8" stroke-width="0.9"/><path d="M411.6,95.5H417.4M414.5,92.7V98.3" stroke="#9c44a8" stroke-width="0.8"/>
<rect x="414.3" y="89.7" width="5.7" height="5.7" fill="#fff" stroke="#9c44a8" stroke-width="0.9"/><path d="M414.3,92.5H420.1M417.2,89.7V95.3" stroke="#9c44a8" stroke-width="0.8"/>
<rect x="416.3" y="85.2" width="5.7" height="5.7" fill="#fff" stroke="#9c44a8" stroke-width="0.9"/><path d="M416.3,88.0H422.1M419.2,85.2V90.8" stroke="#9c44a8" stroke-width="0.8"/>
<rect x="418.6" y="80.7" width="5.7" height="5.7" fill="#fff" stroke="#9c44a8" stroke-width="0.9"/><path d="M418.6,83.5H424.4M421.5,80.7V86.3" stroke="#9c44a8" stroke-width="0.8"/>
<rect x="420.6" y="76.7" width="5.7" height="5.7" fill="#fff" stroke="#9c44a8" stroke-width="0.9"/><path d="M420.6,79.5H426.4M423.5,76.7V82.3" stroke="#9c44a8" stroke-width="0.8"/>
<rect x="422.6" y="73.2" width="5.7" height="5.7" fill="#fff" stroke="#9c44a8" stroke-width="0.9"/><path d="M422.6,76.0H428.4M425.5,73.2V78.8" stroke="#9c44a8" stroke-width="0.8"/>
<rect x="424.1" y="69.7" width="5.7" height="5.7" fill="#fff" stroke="#9c44a8" stroke-width="0.9"/><path d="M424.1,72.5H429.9M427.0,69.7V75.3" stroke="#9c44a8" stroke-width="0.8"/>
<rect x="428.1" y="64.7" width="5.7" height="5.7" fill="#fff" stroke="#9c44a8" stroke-width="0.9"/><path d="M428.1,67.5H433.9M431.0,64.7V70.3" stroke="#9c44a8" stroke-width="0.8"/>
<rect x="429.6" y="60.1" width="5.7" height="5.7" fill="#fff" stroke="#9c44a8" stroke-width="0.9"/><path d="M429.6,63.0H435.4M432.5,60.1V65.8" stroke="#9c44a8" stroke-width="0.8"/>
<rect x="433.0" y="58.5" width="5.7" height="5.7" fill="#fff" stroke="#9c44a8" stroke-width="0.9"/><path d="M433.0,61.4H438.8M435.9,58.5V64.2" stroke="#9c44a8" stroke-width="0.8"/>
<rect x="435.9" y="56.1" width="5.7" height="5.7" fill="#fff" stroke="#9c44a8" stroke-width="0.9"/><path d="M435.9,59.0H441.7M438.8,56.1V61.9" stroke="#9c44a8" stroke-width="0.8"/>
<rect x="439.8" y="53.2" width="5.7" height="5.7" fill="#fff" stroke="#9c44a8" stroke-width="0.9"/><path d="M439.8,56.1H445.6M442.7,53.2V59.0" stroke="#9c44a8" stroke-width="0.8"/>
<rect x="443.6" y="53.4" width="5.7" height="5.7" fill="#fff" stroke="#9c44a8" stroke-width="0.9"/><path d="M443.6,56.3H449.4M446.5,53.4V59.1" stroke="#9c44a8" stroke-width="0.8"/>
<rect x="446.8" y="54.2" width="5.7" height="5.7" fill="#fff" stroke="#9c44a8" stroke-width="0.9"/><path d="M446.8,57.1H452.5M449.6,54.2V60.0" stroke="#9c44a8" stroke-width="0.8"/>
<rect x="448.8" y="58.5" width="5.7" height="5.7" fill="#fff" stroke="#9c44a8" stroke-width="0.9"/><path d="M448.8,61.4H454.5M451.6,58.5V64.2" stroke="#9c44a8" stroke-width="0.8"/>
<path d="M285.4,154.6L296.6,151.0M305.6,149.3L308.4,149.1M317.5,147.9L320.4,147.2M329.3,144.9L334.3,143.3M343.2,141.1L350.2,139.8M359.1,137.7L362.6,136.8M371.5,134.8L375.5,134.2M384.5,132.8L388.5,132.2M397.6,131.0L401.4,130.5M410.6,129.4L413.4,129.1M422.5,127.6L425.5,126.9" fill="none" stroke="#555" stroke-width="0.6"/>
<polygon points="281.00,151.00 282.29,154.22 285.76,154.45 283.09,156.68 283.94,160.05 281.00,158.20 278.06,160.05 278.91,156.68 276.24,154.45 279.71,154.22" fill="#fff" stroke="#a4a4a4" stroke-width="0.85" stroke-linejoin="miter"/>
<polygon points="301.00,144.60 302.29,147.82 305.76,148.05 303.09,150.28 303.94,153.65 301.00,151.80 298.06,153.65 298.91,150.28 296.24,148.05 299.71,147.82" fill="#fff" stroke="#a4a4a4" stroke-width="0.85" stroke-linejoin="miter"/>
<polygon points="313.00,143.80 314.29,147.02 317.76,147.25 315.09,149.48 315.94,152.85 313.00,151.00 310.06,152.85 310.91,149.48 308.24,147.25 311.71,147.02" fill="#fff" stroke="#a4a4a4" stroke-width="0.85" stroke-linejoin="miter"/>
<polygon points="324.90,141.30 326.19,144.52 329.66,144.75 326.99,146.98 327.84,150.35 324.90,148.50 321.96,150.35 322.81,146.98 320.14,144.75 323.61,144.52" fill="#fff" stroke="#a4a4a4" stroke-width="0.85" stroke-linejoin="miter"/>
<polygon points="338.70,136.90 339.99,140.12 343.46,140.35 340.79,142.58 341.64,145.95 338.70,144.10 335.76,145.95 336.61,142.58 333.94,140.35 337.41,140.12" fill="#fff" stroke="#a4a4a4" stroke-width="0.85" stroke-linejoin="miter"/>
<polygon points="354.70,134.00 355.99,137.22 359.46,137.45 356.79,139.68 357.64,143.05 354.70,141.20 351.76,143.05 352.61,139.68 349.94,137.45 353.41,137.22" fill="#fff" stroke="#a4a4a4" stroke-width="0.85" stroke-linejoin="miter"/>
<polygon points="367.00,130.50 368.29,133.72 371.76,133.95 369.09,136.18 369.94,139.55 367.00,137.70 364.06,139.55 364.91,136.18 362.24,133.95 365.71,133.72" fill="#fff" stroke="#a4a4a4" stroke-width="0.85" stroke-linejoin="miter"/>
<polygon points="380.00,128.50 381.29,131.72 384.76,131.95 382.09,134.18 382.94,137.55 380.00,135.70 377.06,137.55 377.91,134.18 375.24,131.95 378.71,131.72" fill="#fff" stroke="#a4a4a4" stroke-width="0.85" stroke-linejoin="miter"/>
<polygon points="393.00,126.50 394.29,129.72 397.76,129.95 395.09,132.18 395.94,135.55 393.00,133.70 390.06,135.55 390.91,132.18 388.24,129.95 391.71,129.72" fill="#fff" stroke="#a4a4a4" stroke-width="0.85" stroke-linejoin="miter"/>
<polygon points="406.00,125.00 407.29,128.22 410.76,128.45 408.09,130.68 408.94,134.05 406.00,132.20 403.06,134.05 403.91,130.68 401.24,128.45 404.71,128.22" fill="#fff" stroke="#a4a4a4" stroke-width="0.85" stroke-linejoin="miter"/>
<polygon points="418.00,123.50 419.29,126.72 422.76,126.95 420.09,129.18 420.94,132.55 418.00,130.70 415.06,132.55 415.91,129.18 413.24,126.95 416.71,126.72" fill="#fff" stroke="#a4a4a4" stroke-width="0.85" stroke-linejoin="miter"/>
<polygon points="430.00,121.00 431.29,124.22 434.76,124.45 432.09,126.68 432.94,130.05 430.00,128.20 427.06,130.05 427.91,126.68 425.24,124.45 428.71,124.22" fill="#fff" stroke="#a4a4a4" stroke-width="0.85" stroke-linejoin="miter"/>
<polygon points="438.20,116.80 439.49,120.02 442.96,120.25 440.29,122.48 441.14,125.85 438.20,124.00 435.26,125.85 436.11,122.48 433.44,120.25 436.91,120.02" fill="#fff" stroke="#a4a4a4" stroke-width="0.85" stroke-linejoin="miter"/>
<polygon points="443.60,112.30 444.89,115.52 448.36,115.75 445.69,117.98 446.54,121.35 443.60,119.50 440.66,121.35 441.51,117.98 438.84,115.75 442.31,115.52" fill="#fff" stroke="#a4a4a4" stroke-width="0.85" stroke-linejoin="miter"/>
<polygon points="450.00,107.70 451.29,110.92 454.76,111.15 452.09,113.38 452.94,116.75 450.00,114.90 447.06,116.75 447.91,113.38 445.24,111.15 448.71,110.92" fill="#fff" stroke="#a4a4a4" stroke-width="0.85" stroke-linejoin="miter"/>
<polygon points="454.50,105.00 455.79,108.22 459.26,108.45 456.59,110.68 457.44,114.05 454.50,112.20 451.56,114.05 452.41,110.68 449.74,108.45 453.21,108.22" fill="#fff" stroke="#a4a4a4" stroke-width="0.85" stroke-linejoin="miter"/>
<polygon points="459.00,102.30 460.29,105.52 463.76,105.75 461.09,107.98 461.94,111.35 459.00,109.50 456.06,111.35 456.91,107.98 454.24,105.75 457.71,105.52" fill="#fff" stroke="#a4a4a4" stroke-width="0.85" stroke-linejoin="miter"/>
<polygon points="463.60,100.50 464.89,103.72 468.36,103.95 465.69,106.18 466.54,109.55 463.60,107.70 460.66,109.55 461.51,106.18 458.84,103.95 462.31,103.72" fill="#fff" stroke="#a4a4a4" stroke-width="0.85" stroke-linejoin="miter"/>
<polygon points="467.30,98.60 468.59,101.82 472.06,102.05 469.39,104.28 470.24,107.65 467.30,105.80 464.36,107.65 465.21,104.28 462.54,102.05 466.01,101.82" fill="#fff" stroke="#a4a4a4" stroke-width="0.85" stroke-linejoin="miter"/>
<path d="M311.4,147.1L315.4,146.8M324.4,145.1L326.3,144.6M335.1,142.1L343.8,139.6M352.7,137.2L361.1,135.0M370.2,133.4L378.1,132.7M387.2,131.2L394.2,129.8M403.3,128.4L408.2,128.1M417.4,127.6L419.2,127.5M428.2,126.1L432.6,124.9M441.5,122.8L447.3,121.7" fill="none" stroke="#555" stroke-width="0.6"/>
<polygon points="302.20,147.60 310.60,143.10 310.60,152.10" fill="#fff" stroke="#ee4f8e" stroke-width="0.85" stroke-linejoin="miter"/><path d="M302.2,147.6H312.0M307.1,143.1V152.1" stroke="#ee4f8e" stroke-width="0.75"/>
<polygon points="315.40,146.30 323.80,141.80 323.80,150.80" fill="#fff" stroke="#ee4f8e" stroke-width="0.85" stroke-linejoin="miter"/><path d="M315.4,146.3H325.2M320.3,141.8V150.8" stroke="#ee4f8e" stroke-width="0.75"/>
<polygon points="326.10,143.40 334.50,138.90 334.50,147.90" fill="#fff" stroke="#ee4f8e" stroke-width="0.85" stroke-linejoin="miter"/><path d="M326.1,143.4H335.9M331.0,138.9V147.9" stroke="#ee4f8e" stroke-width="0.75"/>
<polygon points="343.60,138.30 352.00,133.80 352.00,142.80" fill="#fff" stroke="#ee4f8e" stroke-width="0.85" stroke-linejoin="miter"/><path d="M343.6,138.3H353.4M348.5,133.8V142.8" stroke="#ee4f8e" stroke-width="0.75"/>
<polygon points="361.00,133.90 369.40,129.40 369.40,138.40" fill="#fff" stroke="#ee4f8e" stroke-width="0.85" stroke-linejoin="miter"/><path d="M361.0,133.9H370.8M365.9,129.4V138.4" stroke="#ee4f8e" stroke-width="0.75"/>
<polygon points="378.10,132.20 386.50,127.70 386.50,136.70" fill="#fff" stroke="#ee4f8e" stroke-width="0.85" stroke-linejoin="miter"/><path d="M378.1,132.2H387.9M383.0,127.7V136.7" stroke="#ee4f8e" stroke-width="0.75"/>
<polygon points="394.10,128.80 402.50,124.30 402.50,133.30" fill="#fff" stroke="#ee4f8e" stroke-width="0.85" stroke-linejoin="miter"/><path d="M394.1,128.8H403.9M399.0,124.3V133.3" stroke="#ee4f8e" stroke-width="0.75"/>
<polygon points="408.20,127.70 416.60,123.20 416.60,132.20" fill="#fff" stroke="#ee4f8e" stroke-width="0.85" stroke-linejoin="miter"/><path d="M408.2,127.7H418.0M413.1,123.2V132.2" stroke="#ee4f8e" stroke-width="0.75"/>
<polygon points="419.20,127.40 427.60,122.90 427.60,131.90" fill="#fff" stroke="#ee4f8e" stroke-width="0.85" stroke-linejoin="miter"/><path d="M419.2,127.4H429.0M424.1,122.9V131.9" stroke="#ee4f8e" stroke-width="0.75"/>
<polygon points="432.40,123.60 440.80,119.10 440.80,128.10" fill="#fff" stroke="#ee4f8e" stroke-width="0.85" stroke-linejoin="miter"/><path d="M432.4,123.6H442.2M437.3,119.1V128.1" stroke="#ee4f8e" stroke-width="0.75"/>
<polygon points="447.20,120.90 455.60,116.40 455.60,125.40" fill="#fff" stroke="#ee4f8e" stroke-width="0.85" stroke-linejoin="miter"/><path d="M447.2,120.9H457.0M452.1,116.4V125.4" stroke="#ee4f8e" stroke-width="0.75"/>
<polygon points="455.40,121.30 463.80,116.80 463.80,125.80" fill="#fff" stroke="#ee4f8e" stroke-width="0.85" stroke-linejoin="miter"/><path d="M455.4,121.3H465.2M460.3,116.8V125.8" stroke="#ee4f8e" stroke-width="0.75"/>
<polygon points="460.10,120.90 468.50,116.40 468.50,125.40" fill="#fff" stroke="#ee4f8e" stroke-width="0.85" stroke-linejoin="miter"/><path d="M460.1,120.9H469.9M465.0,116.4V125.4" stroke="#ee4f8e" stroke-width="0.75"/>
<polygon points="464.90,120.80 473.30,116.30 473.30,125.30" fill="#fff" stroke="#ee4f8e" stroke-width="0.85" stroke-linejoin="miter"/><path d="M464.9,120.8H474.7M469.8,116.3V125.3" stroke="#ee4f8e" stroke-width="0.75"/>
<polyline points="86.0,243.0 110.0,229.5 130.0,219.0 155.0,207.0 180.0,195.4 205.0,184.5 230.0,174.0 260.0,163.0 284.0,154.5 310.0,148.5 330.0,144.5 355.0,138.0 380.0,132.5 410.0,130.0 440.0,128.5 472.5,127.4" fill="none" stroke="#111" stroke-width="2.2" stroke-dasharray="7.5,8.3" stroke-dashoffset="11"/>
<polyline points="87.1,300.9 132.5,286.3 153.4,283.7 183.1,284.8 212.6,293.0 241.0,297.3 271.0,300.8 308.6,308.6 347.9,320.2 375.1,321.0 402.9,322.8 431.4,323.5" fill="none" stroke="#555" stroke-width="0.8" />
<polygon points="87.10,295.50 88.39,299.12 92.24,299.23 89.19,301.58 90.27,305.27 87.10,303.10 83.93,305.27 85.01,301.58 81.96,299.23 85.81,299.12" fill="#151515" stroke="none" stroke-width="0" stroke-linejoin="miter"/>
<polygon points="132.50,280.90 133.79,284.52 137.64,284.63 134.59,286.98 135.67,290.67 132.50,288.50 129.33,290.67 130.41,286.98 127.36,284.63 131.21,284.52" fill="#151515" stroke="none" stroke-width="0" stroke-linejoin="miter"/>
<polygon points="153.40,278.30 154.69,281.92 158.54,282.03 155.49,284.38 156.57,288.07 153.40,285.90 150.23,288.07 151.31,284.38 148.26,282.03 152.11,281.92" fill="#151515" stroke="none" stroke-width="0" stroke-linejoin="miter"/>
<polygon points="183.10,279.40 184.39,283.02 188.24,283.13 185.19,285.48 186.27,289.17 183.10,287.00 179.93,289.17 181.01,285.48 177.96,283.13 181.81,283.02" fill="#151515" stroke="none" stroke-width="0" stroke-linejoin="miter"/>
<polygon points="212.60,287.60 213.89,291.22 217.74,291.33 214.69,293.68 215.77,297.37 212.60,295.20 209.43,297.37 210.51,293.68 207.46,291.33 211.31,291.22" fill="#151515" stroke="none" stroke-width="0" stroke-linejoin="miter"/>
<polygon points="241.00,291.90 242.29,295.52 246.14,295.63 243.09,297.98 244.17,301.67 241.00,299.50 237.83,301.67 238.91,297.98 235.86,295.63 239.71,295.52" fill="#151515" stroke="none" stroke-width="0" stroke-linejoin="miter"/>
<polygon points="271.00,295.40 272.29,299.02 276.14,299.13 273.09,301.48 274.17,305.17 271.00,303.00 267.83,305.17 268.91,301.48 265.86,299.13 269.71,299.02" fill="#151515" stroke="none" stroke-width="0" stroke-linejoin="miter"/>
<polygon points="308.60,303.20 309.89,306.82 313.74,306.93 310.69,309.28 311.77,312.97 308.60,310.80 305.43,312.97 306.51,309.28 303.46,306.93 307.31,306.82" fill="#151515" stroke="none" stroke-width="0" stroke-linejoin="miter"/>
<polygon points="347.90,314.80 349.19,318.42 353.04,318.53 349.99,320.88 351.07,324.57 347.90,322.40 344.73,324.57 345.81,320.88 342.76,318.53 346.61,318.42" fill="#151515" stroke="none" stroke-width="0" stroke-linejoin="miter"/>
<polygon points="375.10,315.60 376.39,319.22 380.24,319.33 377.19,321.68 378.27,325.37 375.10,323.20 371.93,325.37 373.01,321.68 369.96,319.33 373.81,319.22" fill="#151515" stroke="none" stroke-width="0" stroke-linejoin="miter"/>
<polygon points="402.90,317.40 404.19,321.02 408.04,321.13 404.99,323.48 406.07,327.17 402.90,325.00 399.73,327.17 400.81,323.48 397.76,321.13 401.61,321.02" fill="#151515" stroke="none" stroke-width="0" stroke-linejoin="miter"/>
<polygon points="431.40,318.10 432.69,321.72 436.54,321.83 433.49,324.18 434.57,327.87 431.40,325.70 428.23,327.87 429.31,324.18 426.26,321.83 430.11,321.72" fill="#151515" stroke="none" stroke-width="0" stroke-linejoin="miter"/>
<polyline points="84.2,294.9 114.6,284.7 143.3,272.0 163.3,267.0 182.3,265.8 210.5,269.4 230.2,273.0 264.8,277.6 307.7,280.2 347.4,283.3 375.1,287.9 404.5,292.6 430.7,295.6" fill="none" stroke="#555" stroke-width="0.8" />
<circle cx="84.2" cy="294.9" r="4.4" fill="#e2352a" stroke="none" stroke-width="0"/>
<circle cx="114.6" cy="284.7" r="4.4" fill="#e2352a" stroke="none" stroke-width="0"/>
<circle cx="143.3" cy="272.0" r="4.4" fill="#e2352a" stroke="none" stroke-width="0"/>
<circle cx="163.3" cy="267.0" r="4.4" fill="#e2352a" stroke="none" stroke-width="0"/>
<circle cx="182.3" cy="265.8" r="4.4" fill="#e2352a" stroke="none" stroke-width="0"/>
<circle cx="210.5" cy="269.4" r="4.4" fill="#e2352a" stroke="none" stroke-width="0"/>
<circle cx="230.2" cy="273.0" r="4.4" fill="#e2352a" stroke="none" stroke-width="0"/>
<circle cx="264.8" cy="277.6" r="4.4" fill="#e2352a" stroke="none" stroke-width="0"/>
<circle cx="307.7" cy="280.2" r="4.4" fill="#e2352a" stroke="none" stroke-width="0"/>
<circle cx="347.4" cy="283.3" r="4.4" fill="#e2352a" stroke="none" stroke-width="0"/>
<circle cx="375.1" cy="287.9" r="4.4" fill="#e2352a" stroke="none" stroke-width="0"/>
<circle cx="404.5" cy="292.6" r="4.4" fill="#e2352a" stroke="none" stroke-width="0"/>
<circle cx="430.7" cy="295.6" r="4.4" fill="#e2352a" stroke="none" stroke-width="0"/>
<polyline points="130.5,268.5 169.5,254.5 200.4,246.5 229.9,246.9 271.9,250.4 309.3,257.0 348.3,259.0 392.1,262.3 420.5,266.3 431.4,268.5" fill="none" stroke="#555" stroke-width="0.8" />
<polygon points="130.50,263.88 135.30,272.28 125.70,272.28" fill="#80208c" stroke="none" stroke-width="0" stroke-linejoin="miter"/>
<polygon points="169.50,249.88 174.30,258.28 164.70,258.28" fill="#80208c" stroke="none" stroke-width="0" stroke-linejoin="miter"/>
<polygon points="200.40,241.88 205.20,250.28 195.60,250.28" fill="#80208c" stroke="none" stroke-width="0" stroke-linejoin="miter"/>
<polygon points="229.90,242.28 234.70,250.68 225.10,250.68" fill="#80208c" stroke="none" stroke-width="0" stroke-linejoin="miter"/>
<polygon points="271.90,245.78 276.70,254.18 267.10,254.18" fill="#80208c" stroke="none" stroke-width="0" stroke-linejoin="miter"/>
<polygon points="309.30,252.38 314.10,260.78 304.50,260.78" fill="#80208c" stroke="none" stroke-width="0" stroke-linejoin="miter"/>
<polygon points="348.30,254.38 353.10,262.78 343.50,262.78" fill="#80208c" stroke="none" stroke-width="0" stroke-linejoin="miter"/>
<polygon points="392.10,257.68 396.90,266.08 387.30,266.08" fill="#80208c" stroke="none" stroke-width="0" stroke-linejoin="miter"/>
<polygon points="420.50,261.68 425.30,270.08 415.70,270.08" fill="#80208c" stroke="none" stroke-width="0" stroke-linejoin="miter"/>
<polygon points="431.40,263.88 436.20,272.28 426.60,272.28" fill="#80208c" stroke="none" stroke-width="0" stroke-linejoin="miter"/>
<polyline points="152.8,262.7 182.6,250.2 211.3,237.6 229.9,233.2 250.8,232.7 271.6,235.4 307.5,238.5 325.5,239.4 347.3,240.3 375.1,240.6 403.5,242.5 419.3,243.7 432.5,245.8" fill="none" stroke="#555" stroke-width="0.8" />
<polygon points="152.80,257.90 157.60,262.70 152.80,267.50 148.00,262.70" fill="#2f41a6" stroke="none" stroke-width="0" stroke-linejoin="miter"/>
<polygon points="182.60,245.40 187.40,250.20 182.60,255.00 177.80,250.20" fill="#2f41a6" stroke="none" stroke-width="0" stroke-linejoin="miter"/>
<polygon points="211.30,232.80 216.10,237.60 211.30,242.40 206.50,237.60" fill="#2f41a6" stroke="none" stroke-width="0" stroke-linejoin="miter"/>
<polygon points="229.90,228.40 234.70,233.20 229.90,238.00 225.10,233.20" fill="#2f41a6" stroke="none" stroke-width="0" stroke-linejoin="miter"/>
<polygon points="250.80,227.90 255.60,232.70 250.80,237.50 246.00,232.70" fill="#2f41a6" stroke="none" stroke-width="0" stroke-linejoin="miter"/>
<polygon points="271.60,230.60 276.40,235.40 271.60,240.20 266.80,235.40" fill="#2f41a6" stroke="none" stroke-width="0" stroke-linejoin="miter"/>
<polygon points="307.50,233.70 312.30,238.50 307.50,243.30 302.70,238.50" fill="#2f41a6" stroke="none" stroke-width="0" stroke-linejoin="miter"/>
<polygon points="325.50,234.60 330.30,239.40 325.50,244.20 320.70,239.40" fill="#2f41a6" stroke="none" stroke-width="0" stroke-linejoin="miter"/>
<polygon points="347.30,235.50 352.10,240.30 347.30,245.10 342.50,240.30" fill="#2f41a6" stroke="none" stroke-width="0" stroke-linejoin="miter"/>
<polygon points="375.10,235.80 379.90,240.60 375.10,245.40 370.30,240.60" fill="#2f41a6" stroke="none" stroke-width="0" stroke-linejoin="miter"/>
<polygon points="403.50,237.70 408.30,242.50 403.50,247.30 398.70,242.50" fill="#2f41a6" stroke="none" stroke-width="0" stroke-linejoin="miter"/>
<polygon points="419.30,238.90 424.10,243.70 419.30,248.50 414.50,243.70" fill="#2f41a6" stroke="none" stroke-width="0" stroke-linejoin="miter"/>
<polygon points="432.50,241.00 437.30,245.80 432.50,250.60 427.70,245.80" fill="#2f41a6" stroke="none" stroke-width="0" stroke-linejoin="miter"/>
<polyline points="113.6,279.5 143.5,259.3 166.3,249.5 182.0,242.2 198.0,233.5 217.9,224.5 238.6,221.8 271.0,219.1 296.9,219.4 325.3,219.4 360.5,221.0 393.3,225.0 420.8,227.5 432.9,229.0" fill="none" stroke="#555" stroke-width="0.8" />
<polygon points="113.60,274.90 117.97,278.08 116.30,283.22 110.90,283.22 109.23,278.08" fill="#86d8d2" stroke="none" stroke-width="0" stroke-linejoin="miter"/>
<polygon points="143.50,254.70 147.87,257.88 146.20,263.02 140.80,263.02 139.13,257.88" fill="#86d8d2" stroke="none" stroke-width="0" stroke-linejoin="miter"/>
<polygon points="166.30,244.90 170.67,248.08 169.00,253.22 163.60,253.22 161.93,248.08" fill="#86d8d2" stroke="none" stroke-width="0" stroke-linejoin="miter"/>
<polygon points="182.00,237.60 186.37,240.78 184.70,245.92 179.30,245.92 177.63,240.78" fill="#86d8d2" stroke="none" stroke-width="0" stroke-linejoin="miter"/>
<polygon points="198.00,228.90 202.37,232.08 200.70,237.22 195.30,237.22 193.63,232.08" fill="#86d8d2" stroke="none" stroke-width="0" stroke-linejoin="miter"/>
<polygon points="217.90,219.90 222.27,223.08 220.60,228.22 215.20,228.22 213.53,223.08" fill="#86d8d2" stroke="none" stroke-width="0" stroke-linejoin="miter"/>
<polygon points="238.60,217.20 242.97,220.38 241.30,225.52 235.90,225.52 234.23,220.38" fill="#86d8d2" stroke="none" stroke-width="0" stroke-linejoin="miter"/>
<polygon points="271.00,214.50 275.37,217.68 273.70,222.82 268.30,222.82 266.63,217.68" fill="#86d8d2" stroke="none" stroke-width="0" stroke-linejoin="miter"/>
<polygon points="296.90,214.80 301.27,217.98 299.60,223.12 294.20,223.12 292.53,217.98" fill="#86d8d2" stroke="none" stroke-width="0" stroke-linejoin="miter"/>
<polygon points="325.30,214.80 329.67,217.98 328.00,223.12 322.60,223.12 320.93,217.98" fill="#86d8d2" stroke="none" stroke-width="0" stroke-linejoin="miter"/>
<polygon points="360.50,216.40 364.87,219.58 363.20,224.72 357.80,224.72 356.13,219.58" fill="#86d8d2" stroke="none" stroke-width="0" stroke-linejoin="miter"/>
<polygon points="393.30,220.40 397.67,223.58 396.00,228.72 390.60,228.72 388.93,223.58" fill="#86d8d2" stroke="none" stroke-width="0" stroke-linejoin="miter"/>
<polygon points="420.80,222.90 425.17,226.08 423.50,231.22 418.10,231.22 416.43,226.08" fill="#86d8d2" stroke="none" stroke-width="0" stroke-linejoin="miter"/>
<polygon points="432.90,224.40 437.27,227.58 435.60,232.72 430.20,232.72 428.53,227.58" fill="#86d8d2" stroke="none" stroke-width="0" stroke-linejoin="miter"/>
<polyline points="112.9,289.5 130.0,274.5 142.0,266.0 155.9,258.8 168.2,251.4 183.0,247.8 199.0,237.8 221.1,228.4 259.3,209.8 280.6,204.8 296.9,203.7 325.3,198.2 361.3,197.8 392.1,197.4 419.7,198.3 432.7,199.0" fill="none" stroke="#555" stroke-width="0.8" />
<polygon points="112.90,294.25 108.79,291.88 108.79,287.12 112.90,284.75 117.01,287.12 117.01,291.88" fill="#b23fb4" stroke="none" stroke-width="0" stroke-linejoin="miter"/>
<polygon points="130.00,279.25 125.89,276.88 125.89,272.12 130.00,269.75 134.11,272.12 134.11,276.88" fill="#b23fb4" stroke="none" stroke-width="0" stroke-linejoin="miter"/>
<polygon points="142.00,270.75 137.89,268.38 137.89,263.62 142.00,261.25 146.11,263.62 146.11,268.38" fill="#b23fb4" stroke="none" stroke-width="0" stroke-linejoin="miter"/>
<polygon points="155.90,263.55 151.79,261.18 151.79,256.43 155.90,254.05 160.01,256.43 160.01,261.18" fill="#b23fb4" stroke="none" stroke-width="0" stroke-linejoin="miter"/>
<polygon points="168.20,256.15 164.09,253.78 164.09,249.03 168.20,246.65 172.31,249.03 172.31,253.78" fill="#b23fb4" stroke="none" stroke-width="0" stroke-linejoin="miter"/>
<polygon points="183.00,252.55 178.89,250.18 178.89,245.43 183.00,243.05 187.11,245.43 187.11,250.18" fill="#b23fb4" stroke="none" stroke-width="0" stroke-linejoin="miter"/>
<polygon points="199.00,242.55 194.89,240.18 194.89,235.43 199.00,233.05 203.11,235.43 203.11,240.18" fill="#b23fb4" stroke="none" stroke-width="0" stroke-linejoin="miter"/>
<polygon points="221.10,233.15 216.99,230.78 216.99,226.03 221.10,223.65 225.21,226.03 225.21,230.78" fill="#b23fb4" stroke="none" stroke-width="0" stroke-linejoin="miter"/>
<polygon points="259.30,214.55 255.19,212.18 255.19,207.43 259.30,205.05 263.41,207.43 263.41,212.18" fill="#b23fb4" stroke="none" stroke-width="0" stroke-linejoin="miter"/>
<polygon points="280.60,209.55 276.49,207.18 276.49,202.43 280.60,200.05 284.71,202.43 284.71,207.18" fill="#b23fb4" stroke="none" stroke-width="0" stroke-linejoin="miter"/>
<polygon points="296.90,208.45 292.79,206.07 292.79,201.32 296.90,198.95 301.01,201.32 301.01,206.07" fill="#b23fb4" stroke="none" stroke-width="0" stroke-linejoin="miter"/>
<polygon points="325.30,202.95 321.19,200.57 321.19,195.82 325.30,193.45 329.41,195.82 329.41,200.57" fill="#b23fb4" stroke="none" stroke-width="0" stroke-linejoin="miter"/>
<polygon points="361.30,202.55 357.19,200.18 357.19,195.43 361.30,193.05 365.41,195.43 365.41,200.18" fill="#b23fb4" stroke="none" stroke-width="0" stroke-linejoin="miter"/>
<polygon points="392.10,202.15 387.99,199.78 387.99,195.03 392.10,192.65 396.21,195.03 396.21,199.78" fill="#b23fb4" stroke="none" stroke-width="0" stroke-linejoin="miter"/>
<polygon points="419.70,203.05 415.59,200.68 415.59,195.93 419.70,193.55 423.81,195.93 423.81,200.68" fill="#b23fb4" stroke="none" stroke-width="0" stroke-linejoin="miter"/>
<polygon points="432.70,203.75 428.59,201.38 428.59,196.62 432.70,194.25 436.81,196.62 436.81,201.38" fill="#b23fb4" stroke="none" stroke-width="0" stroke-linejoin="miter"/>
<polyline points="85.4,316.7 114.7,290.6 135.0,273.8 147.6,263.0 164.5,253.9 176.0,249.0 191.0,241.6 210.2,230.6 229.4,221.8 247.3,213.1 268.0,206.2 295.9,196.7 325.3,187.9 369.5,182.5 392.1,181.7 422.1,180.8 433.9,182.5" fill="none" stroke="#555" stroke-width="0.8" />
<rect x="81.8" y="313.1" width="7.2" height="7.2" fill="#5cc03e" stroke="none" stroke-width="0"/>
<rect x="111.1" y="287.0" width="7.2" height="7.2" fill="#5cc03e" stroke="none" stroke-width="0"/>
<rect x="131.4" y="270.2" width="7.2" height="7.2" fill="#5cc03e" stroke="none" stroke-width="0"/>
<rect x="144.0" y="259.4" width="7.2" height="7.2" fill="#5cc03e" stroke="none" stroke-width="0"/>
<rect x="160.9" y="250.3" width="7.2" height="7.2" fill="#5cc03e" stroke="none" stroke-width="0"/>
<rect x="172.4" y="245.4" width="7.2" height="7.2" fill="#5cc03e" stroke="none" stroke-width="0"/>
<rect x="187.4" y="238.0" width="7.2" height="7.2" fill="#5cc03e" stroke="none" stroke-width="0"/>
<rect x="206.6" y="227.0" width="7.2" height="7.2" fill="#5cc03e" stroke="none" stroke-width="0"/>
<rect x="225.8" y="218.2" width="7.2" height="7.2" fill="#5cc03e" stroke="none" stroke-width="0"/>
<rect x="243.7" y="209.5" width="7.2" height="7.2" fill="#5cc03e" stroke="none" stroke-width="0"/>
<rect x="264.4" y="202.6" width="7.2" height="7.2" fill="#5cc03e" stroke="none" stroke-width="0"/>
<rect x="292.3" y="193.1" width="7.2" height="7.2" fill="#5cc03e" stroke="none" stroke-width="0"/>
<rect x="321.7" y="184.3" width="7.2" height="7.2" fill="#5cc03e" stroke="none" stroke-width="0"/>
<rect x="365.9" y="178.9" width="7.2" height="7.2" fill="#5cc03e" stroke="none" stroke-width="0"/>
<rect x="388.5" y="178.1" width="7.2" height="7.2" fill="#5cc03e" stroke="none" stroke-width="0"/>
<rect x="418.5" y="177.2" width="7.2" height="7.2" fill="#5cc03e" stroke="none" stroke-width="0"/>
<rect x="430.3" y="178.9" width="7.2" height="7.2" fill="#5cc03e" stroke="none" stroke-width="0"/>
<polyline points="84.0,332.2 115.3,299.3 153.5,268.2 165.7,257.6 187.0,246.2 210.2,237.1 233.1,225.1 258.5,213.3 282.8,203.7 311.1,193.2 345.0,185.8 373.6,181.7 405.6,178.4 441.0,176.1 470.3,175.8" fill="none" stroke="#555" stroke-width="0.8" />
<polygon points="78.75,328.06 89.25,328.06 84.00,337.26" fill="#8c8c8c" stroke="none" stroke-width="0" stroke-linejoin="miter"/>
<polygon points="110.05,295.16 120.55,295.16 115.30,304.36" fill="#8c8c8c" stroke="none" stroke-width="0" stroke-linejoin="miter"/>
<polygon points="148.25,264.06 158.75,264.06 153.50,273.26" fill="#8c8c8c" stroke="none" stroke-width="0" stroke-linejoin="miter"/>
<polygon points="160.45,253.46 170.95,253.46 165.70,262.66" fill="#8c8c8c" stroke="none" stroke-width="0" stroke-linejoin="miter"/>
<polygon points="181.75,242.06 192.25,242.06 187.00,251.26" fill="#8c8c8c" stroke="none" stroke-width="0" stroke-linejoin="miter"/>
<polygon points="204.95,232.96 215.45,232.96 210.20,242.16" fill="#8c8c8c" stroke="none" stroke-width="0" stroke-linejoin="miter"/>
<polygon points="227.85,220.96 238.35,220.96 233.10,230.16" fill="#8c8c8c" stroke="none" stroke-width="0" stroke-linejoin="miter"/>
<polygon points="253.25,209.16 263.75,209.16 258.50,218.36" fill="#8c8c8c" stroke="none" stroke-width="0" stroke-linejoin="miter"/>
<polygon points="277.55,199.56 288.05,199.56 282.80,208.76" fill="#8c8c8c" stroke="none" stroke-width="0" stroke-linejoin="miter"/>
<polygon points="305.85,189.06 316.35,189.06 311.10,198.26" fill="#8c8c8c" stroke="none" stroke-width="0" stroke-linejoin="miter"/>
<polygon points="339.75,181.66 350.25,181.66 345.00,190.86" fill="#8c8c8c" stroke="none" stroke-width="0" stroke-linejoin="miter"/>
<polygon points="368.35,177.56 378.85,177.56 373.60,186.76" fill="#8c8c8c" stroke="none" stroke-width="0" stroke-linejoin="miter"/>
<polygon points="400.35,174.26 410.85,174.26 405.60,183.46" fill="#8c8c8c" stroke="none" stroke-width="0" stroke-linejoin="miter"/>
<polygon points="435.75,171.96 446.25,171.96 441.00,181.16" fill="#8c8c8c" stroke="none" stroke-width="0" stroke-linejoin="miter"/>
<polygon points="465.05,171.66 475.55,171.66 470.30,180.86" fill="#8c8c8c" stroke="none" stroke-width="0" stroke-linejoin="miter"/>
<polyline points="86.0,292.0 104.0,281.0 122.0,271.0 141.0,261.5 160.0,252.4 180.0,243.6 200.0,235.0 220.0,226.8 250.0,213.5 278.0,203.5 310.0,193.5 340.0,186.0 370.0,181.0 410.0,177.3 440.0,175.0 473.0,173.0" fill="none" stroke="#111" stroke-width="2.2" stroke-dasharray="7.5,8.4"/>
</svg>
</body></html>
